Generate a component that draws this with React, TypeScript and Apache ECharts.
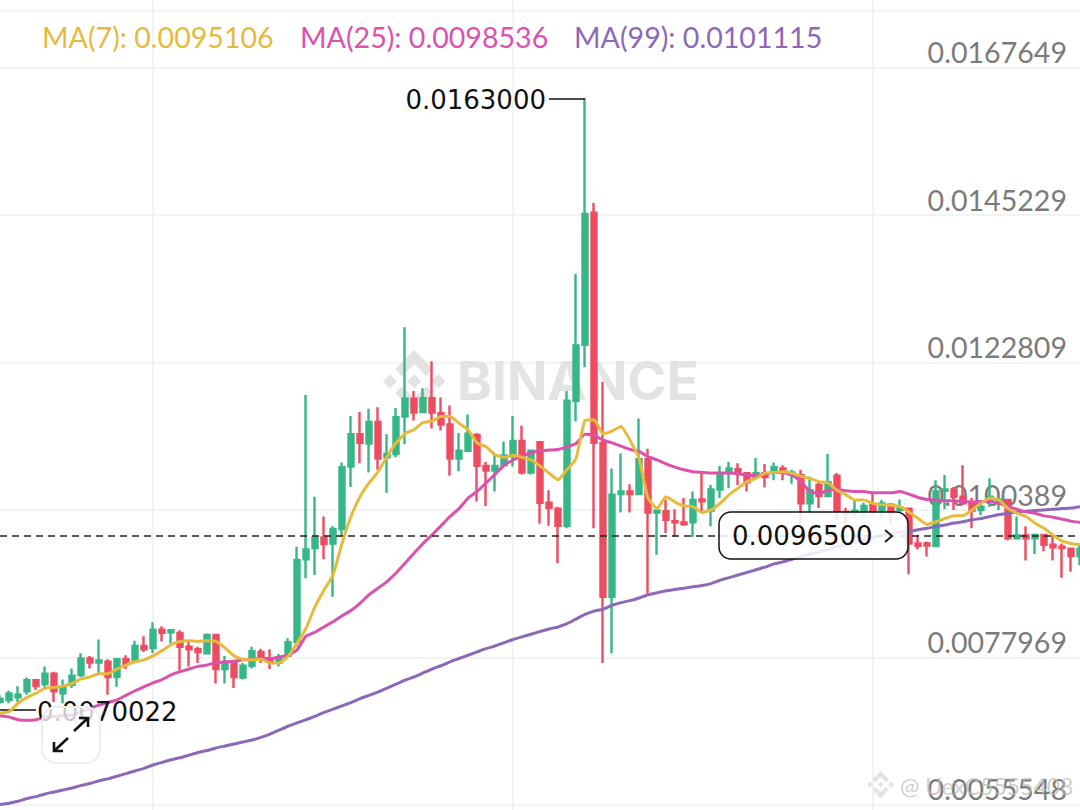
import React, { useEffect, useRef } from "react";
import * as echarts from "echarts";

const PRICE_UNIT = 0.00001;

// [open, close, low, high]
const candles: number[][] = [
  [712,717,709,722],[715,725,710,729],[719,723,712,736],[728,745,723,749],[745,736,730,746],[739,755,730,766],
  [755,728,712,758],[725,735,710,746],[738,752,733,763],[753,778,750,786],[778,772,763,782],[772,775,755,807],
  [773,750,723,777],[750,777,735,778],[777,770,762,783],[776,797,776,805],[797,792,788,812],[794,822,786,833],
  [822,817,804,827],[818,821,801,822],[817,796,760,821],[796,792,766,804],[792,788,771,796],[786,814,785,816],
  [814,762,740,815],[762,771,740,782],[772,750,733,773],[749,767,746,771],[767,789,763,796],[788,777,771,793],
  [778,773,762,792],[772,780,766,785],[782,803,781,809],[803,928,796,948],[929,944,900,1179],[946,962,905,1024],
  [962,952,929,994],[953,975,872,979],[975,1069,963,1076],[1070,1119,1039,1147],[1119,1106,1075,1153],[1105,1138,1061,1158],
  [1138,1082,1065,1160],[1084,1089,1030,1119],[1089,1145,1084,1159],[1146,1173,1104,1282],[1173,1152,1140,1185],[1153,1174,1152,1189],
  [1174,1152,1128,1230],[1151,1134,1125,1175],[1134,1082,1056,1163],[1082,1094,1063,1121],[1094,1120,1093,1149],[1118,1071,1017,1121],
  [1071,1064,1010,1077],[1064,1071,1032,1089],[1072,1087,1070,1108],[1086,1109,1070,1147],[1109,1061,1058,1132],[1061,1094,1058,1096],
  [1107,1015,983,1108],[1015,1007,980,1034],[1006,980,923,1009],[980,1170,976,1185],[1170,1254,1139,1363],[1255,1454,1221,1630],
  [1456,1106,976,1471],[1106,872,771,1199],[872,1027,786,1067],[1028,1032,1000,1090],[1032,1028,1000,1043],[1028,1081,1027,1143],
  [1081,1000,877,1097],[1000,1003,936,1004],[1002,989,969,1020],[987,985,963,1005],[985,982,980,1022],[985,1019,963,1032],
  [1020,1017,1001,1062],[1003,1035,979,1042],[1035,1057,1022,1071],[1060,1067,1037,1077],[1066,1061,1042,1075],[1060,1046,1032,1062],
  [1054,1060,1051,1083],[1060,1054,1038,1074],[1061,1069,1049,1076],[1067,1060,1049,1072],[1058,1061,1044,1065],[1057,1014,979,1065],
  [1014,1034,1001,1055],[1042,1025,1007,1045],[1025,1046,1024,1089],[1056,1001,989,1060],[1001,998,979,1007],[1000,1003,991,1019],
  [1003,1010,991,1015],[1012,1001,996,1032],[1004,1014,991,1019],[1012,999,981,1014],[1004,1007,1001,1020],[1006,953,906,1007],
  [953,949,944,966],[953,950,933,956],[949,1032,948,1049],[1033,1035,1005,1057],[1035,1024,1004,1039],[1024,1014,1012,1072],
  [1014,1003,976,1022],[1004,1009,996,1015],[1017,1024,1009,1052],[1017,1020,1004,1024],[1019,961,958,1019],[961,965,961,994],
  [965,961,927,979],[961,966,937,968],[966,951,941,967],[951,947,927,966],[948,946,901,953],[945,934,910,946],[934,945,920,953],
];

const ma7: number[] = [
  695,697,710,719,725,733,734,736,740,747,750,755,755,762,768,773,776,782,790,799,804,805,804,805,804,794,782,777,776,777,771,771,781,801,
  824,857,882,905,953,994,1024,1045,1062,1085,1106,1120,1126,1137,1139,1146,1146,1136,1126,1106,1100,1088,
  1084,1087,1084,1080,1071,1060,1050,1065,1082,1140,1141,1120,1124,1131,1110,1082,1022,1006,1024,1016,1010,1009,
  1000,1004,1014,1027,1037,1047,1052,1060,1061,1062,1060,1055,1052,1047,1045,1034,1027,1019,1019,1014,1012,
  1011,1009,1001,991,982,986,991,995,995,1004,1014,1022,1019,1006,999,994,984,976,966,957,953,951,
];

const ma25: number[] = [
  691,689,685,684,685,689,690,691,692,697,702,707,711,715,722,729,735,741,746,753,758,762,766,768,772,773,774,776,777,778,778,780,783,791,
  812,818,826,834,843,851,862,875,885,895,908,923,938,953,966,980,994,1006,1022,1032,1045,1058,
  1072,1080,1086,1091,1094,1095,1096,1100,1105,1119,1118,1110,1106,1101,1096,1093,1085,1080,1074,1069,1065,1062,
  1061,1060,1060,1060,1059,1057,1056,1059,1061,1061,1057,1047,1032,1029,1034,1035,1033,1032,1032,1030,1030,
  1030,1032,1028,1023,1020,1019,1018,1018,1017,1016,1017,1017,1014,1009,1005,1001,999,995,993,990,987,985,
];

const ma99: number[] = [
  556,558,561,565,568,572,575,578,581,585,588,592,595,599,603,607,611,616,620,624,627,631,635,638,642,645,648,651,654,658,663,669,675,680,
  685,690,696,701,706,711,717,722,727,733,739,745,750,756,762,767,773,778,783,788,793,797,
  802,807,811,815,819,823,826,831,838,845,850,853,859,863,866,870,875,878,881,883,885,887,
  889,892,897,901,905,909,913,917,922,925,929,933,937,940,944,948,951,955,959,962,966,
  968,970,971,974,976,979,981,984,986,989,991,994,997,999,1001,1002,1003,1004,1005,1006,1007,1009,
];

const categories: string[] = candles.map((_, i) => String(i));

const priceTicks: number[] = [0.0167649, 0.0145229, 0.0122809, 0.0100389, 0.0077969, 0.0055548];
const topEdgePrice = 0.017629;
const verticalGridCategories: number[] = [17, 57, 97];

const legendItems = [
  { label: "MA(7): 0.0095106", color: "#E6BA3C" },
  { label: "MA(25): 0.0098536", color: "#DB52AE" },
  { label: "MA(99): 0.0101115", color: "#8C68B8" },
];

const highPrice = 0.0163;
const highCategory = "65";
const highLabelCategory = "61";
const lowPrice = 0.0070022;
const lowCategory = "0";
const lowLabelCategory = "4";
const currentPrice = 0.00965;

const GREEN = "#35B787";
const RED = "#EE4C60";
const LABEL_FONT = "Lato";
const MARK_FONT = "DejaVu Sans";

const LOGO_PATH =
  "M9.8 13.4 16 7.2l6.2 6.2 3.6-3.6L16 0 6.2 9.8l3.6 3.6zM0 16l3.6-3.6L7.2 16l-3.6 3.6L0 16zm9.8 2.6L16 24.8l6.2-6.2 3.6 3.6L16 32l-9.8-9.8 3.6-3.6zM24.8 16l3.6-3.6L32 16l-3.6 3.6-3.6-3.6zM19.6 16 16 12.4 13.4 15l-.3.3-.6.6 3.5 3.7 3.6-3.6z";

const scaled = (a: number[]) => a.map((v) => +(v * PRICE_UNIT).toFixed(7));

export default function App() {
  const ref = useRef<HTMLDivElement>(null);

  useEffect(() => {
    document.body.style.margin = "0";
    echarts.graphic.registerShape("binanceLogo", echarts.graphic.extendPath(LOGO_PATH as any, {}) as any);
    const chart = echarts.init(ref.current!, undefined, { renderer: "svg" });

    const lineSeries = (name: string, data: number[], color: string, z: number) => ({
      name,
      type: "line",
      data: scaled(data),
      showSymbol: false,
      smooth: 0.15,
      z,
      silent: true,
      lineStyle: { color, width: 3 },
    });

    const markLabel = (text: string, distance: number) => ({
      show: true,
      position: "end",
      distance,
      offset: [0, 2],
      formatter: text,
      color: "#111",
      fontFamily: MARK_FONT,
      fontSize: 26,
    });
    const markLineStyle = { color: "#111", type: "solid", width: 1.5 };
    const dashedStyle = { color: "#222", type: [7, 5], width: 1.5 };
    const noLabel = { show: false };

    chart.setOption({
      animation: false,
      backgroundColor: "#ffffff",
      grid: { left: -2.03, top: 0, width: 9.03 * (categories.length - 1), height: 810 },
      xAxis: {
        type: "category",
        data: categories,
        boundaryGap: false,
        axisLine: { show: false },
        axisTick: { show: false },
        axisLabel: { show: false },
        splitLine: {
          show: true,
          interval: (index: number) => verticalGridCategories.includes(index),
          lineStyle: { color: "#EFEFEF", width: 1.5 },
        },
      },
      yAxis: {
        type: "value",
        position: "right",
        min: 0.005476,
        max: 0.017796,
        axisLine: { show: false },
        axisTick: { show: false, customValues: [...priceTicks, topEdgePrice] },
        axisLabel: {
          inside: true,
          margin: 13,
          customValues: priceTicks,
          formatter: (v: number) => v.toFixed(7),
          color: "#7B7B7B",
          fontFamily: LABEL_FONT,
          fontSize: 28.6,
          verticalAlign: "bottom",
          padding: [0, 0, 1, 0],
        },
        splitLine: { show: true, lineStyle: { color: "#EFEFEF", width: 1.5 } },
      },
      series: [
        {
          type: "candlestick",
          data: candles.map((c) => scaled(c)),
          barWidth: 6,
          z: 2,
          silent: true,
          itemStyle: {
            color: GREEN,
            color0: RED,
            borderColor: GREEN,
            borderColor0: RED,
            borderWidth: 2.4,
          },
          markLine: {
            silent: true,
            symbol: "none",
            animation: false,
            data: [
              [
                { coord: [highCategory, highPrice] },
                {
                  coord: [highLabelCategory, highPrice],
                  lineStyle: markLineStyle,
                  label: markLabel(highPrice.toFixed(7), 3),
                },
              ],
              [
                { coord: [lowCategory, lowPrice] },
                {
                  coord: [lowLabelCategory, lowPrice],
                  lineStyle: markLineStyle,
                  label: markLabel(lowPrice.toFixed(7), 1),
                },
              ],
              [
                { coord: [categories[0], currentPrice] },
                {
                  coord: [categories[categories.length - 1], currentPrice],
                  lineStyle: dashedStyle,
                  label: noLabel,
                },
              ],
            ],
          },
        },
        lineSeries("MA(99)", ma99, "#8C68B8", 3),
        lineSeries("MA(25)", ma25, "#DB52AE", 4),
        lineSeries("MA(7)", ma7, "#E6BA3C", 5),
      ],
      graphic: [
        // legend
        ...legendItems.map((item, i) => ({
          type: "text",
          z: 20,
          x: [42, 300, 574][i],
          y: 37,
          style: {
            text: item.label,
            fill: item.color,
            font: `28.6px ${LABEL_FONT}`,
            verticalAlign: "middle",
          },
        })),
        // main watermark
        {
          type: "binanceLogo",
          z: 1,
          silent: true,
          x: 383,
          y: 350,
          scaleX: 1.95,
          scaleY: 1.95,
          style: { fill: "#E3E3E3" },
        },
        {
          type: "text",
          z: 1,
          x: 457,
          y: 381,
          style: {
            text: "BINANCE",
            fill: "#E3E3E3",
            font: "700 53px Inter",
            verticalAlign: "middle",
          },
        },
        // bottom-right watermark
        {
          type: "binanceLogo",
          z: 21,
          silent: true,
          x: 867,
          y: 771,
          scaleX: 0.85,
          scaleY: 0.85,
          style: { fill: "#E4E4E4" },
        },
        {
          type: "text",
          z: 21,
          x: 900,
          y: 786,
          style: {
            text: "@ UexC5555408",
            fill: "rgba(190,190,190,0.75)",
            font: "23px Lato",
            verticalAlign: "middle",
          },
        },
        // current price tag
        {
          type: "rect",
          z: 22,
          shape: { x: 719, y: 512, width: 189, height: 47, r: 12 },
          style: { fill: "rgba(255,255,255,0.86)", stroke: "#111", lineWidth: 1.5 },
        },
        {
          type: "text",
          z: 23,
          x: 732,
          y: 536,
          style: {
            text: currentPrice.toFixed(7),
            fill: "#111",
            font: `26px ${MARK_FONT}`,
            verticalAlign: "middle",
          },
        },
        {
          type: "polyline",
          z: 23,
          shape: { points: [[885, 530], [892, 536], [885, 542]] },
          style: { stroke: "#222", lineWidth: 2, fill: "none" },
        },
        // expand button
        {
          type: "rect",
          z: 22,
          shape: { x: 42, y: 707, width: 58, height: 56, r: 14 },
          style: { fill: "rgba(255,255,255,0.78)", stroke: "#EEEEEE", lineWidth: 2 },
        },
        {
          type: "polyline",
          z: 23,
          shape: { points: [[74, 731], [88, 718]] },
          style: { stroke: "#111", lineWidth: 2.6, fill: "none" },
        },
        {
          type: "polyline",
          z: 23,
          shape: { points: [[79, 718], [88, 718], [88, 727]] },
          style: { stroke: "#111", lineWidth: 2.6, fill: "none" },
        },
        {
          type: "polyline",
          z: 23,
          shape: { points: [[68, 738], [54, 751]] },
          style: { stroke: "#111", lineWidth: 2.6, fill: "none" },
        },
        {
          type: "polyline",
          z: 23,
          shape: { points: [[54, 742], [54, 751], [63, 751]] },
          style: { stroke: "#111", lineWidth: 2.6, fill: "none" },
        },
      ],
    });

    return () => chart.dispose();
  }, []);

  return <div ref={ref} style={{ position: "fixed", left: 0, top: 0, width: 1080, height: 810 }} />;
}
